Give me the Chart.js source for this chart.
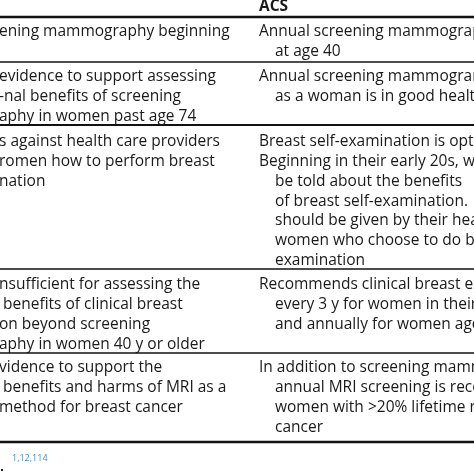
<!DOCTYPE html>
<html>
<head>
<meta charset="utf-8">
<script src="https://cdn.jsdelivr.net/npm/chart.js@4"></script>
<style>
  body { margin: 0; background: #fff; }
  #wrap { width: 474px; height: 474px; }
</style>
</head>
<body>
<div id="wrap"><canvas id="tableChart" width="474" height="474"></canvas></div>
<script>
// Table rules (y position in page units) and their weights
const ruleY = [17, 62, 125, 269, 353, 442];
const ruleWidth = [2.5, 1.5, 2, 1.5, 1.5, 2.5];

// Cell text: each row has a left (cropped) column and the ACS column
const header = 'ACS';
const leftCells = [
  ['ening mammography beginning'],
  ['evidence to support assessing', '-nal benefits of screening', 'aphy in women past age 74'],
  ['s against health care providers', 'romen how to perform breast', 'nation'],
  ['nsufficient for assessing the', ' benefits of clinical breast', 'on beyond screening', 'aphy in women 40 y or older'],
  ['vidence to support the', ' benefits and harms of MRI as a', 'method for breast cancer']
];
const acsCells = [
  ['Annual screening mammography', '  at age 40'],
  ['Annual screening mammograms', '  as a woman is in good health'],
  ['Breast self-examination is optional', 'Beginning in their early 20s, women', '  be told about the benefits', '  of breast self-examination.', '  should be given by their health', '  women who choose to do breast', '  examination'],
  ['Recommends clinical breast exam', '  every 3 y for women in their', '  and annually for women aged'],
  ['In addition to screening mammography', '  annual MRI screening is recommended', '  women with >20% lifetime risk', '  cancer']
];
const rowTop = [32, 77, 142, 285, 368];
const footnote = '1,12,114';

const lineGap = 19.7;
const leftX = -1, acsX = 259, indent = 16;

const tableText = {
  id: 'tableText',
  afterDatasetsDraw(chart) {
    const c = chart.ctx, sx = chart.scales.x, sy = chart.scales.y;
    c.save();
    c.fillStyle = '#1a1a1a';
    c.textBaseline = 'middle';
    c.font = 'bold 15.5px "Open Sans"';
    c.fillText(header, sx.getPixelForValue(acsX), sy.getPixelForValue(7));
    c.font = '15.5px "Open Sans"';
    rowTop.forEach((top, r) => {
      leftCells[r].forEach((t, i) => {
        c.fillText(t, sx.getPixelForValue(leftX), sy.getPixelForValue(top + i * lineGap));
      });
      acsCells[r].forEach((t, i) => {
        const ind = t.startsWith('  ') ? indent : 0;
        c.fillText(t.trim(), sx.getPixelForValue(acsX + ind), sy.getPixelForValue(top + i * lineGap));
      });
    });
    c.fillStyle = '#4a8cc0';
    c.font = '9px "Open Sans"';
    c.fillText(footnote, sx.getPixelForValue(12), sy.getPixelForValue(458));
    c.fillStyle = '#1a1a1a';
    c.fillRect(sx.getPixelForValue(1), sy.getPixelForValue(469), 2, 2);
    c.restore();
  }
};

new Chart(document.getElementById('tableChart').getContext('2d'), {
  type: 'scatter',
  data: {
    datasets: ruleY.map((y, i) => ({
      data: [{ x: 0, y: y }, { x: 474, y: y }],
      showLine: true,
      borderColor: '#111',
      borderWidth: ruleWidth[i],
      pointRadius: 0
    }))
  },
  options: {
    responsive: false,
    animation: false,
    layout: { padding: 0 },
    scales: {
      x: { type: 'linear', min: 0, max: 474, display: false },
      y: { type: 'linear', min: 0, max: 474, reverse: true, display: false }
    },
    plugins: { legend: { display: false }, tooltip: { enabled: false } }
  },
  plugins: [tableText]
});
</script>
</body>
</html>
